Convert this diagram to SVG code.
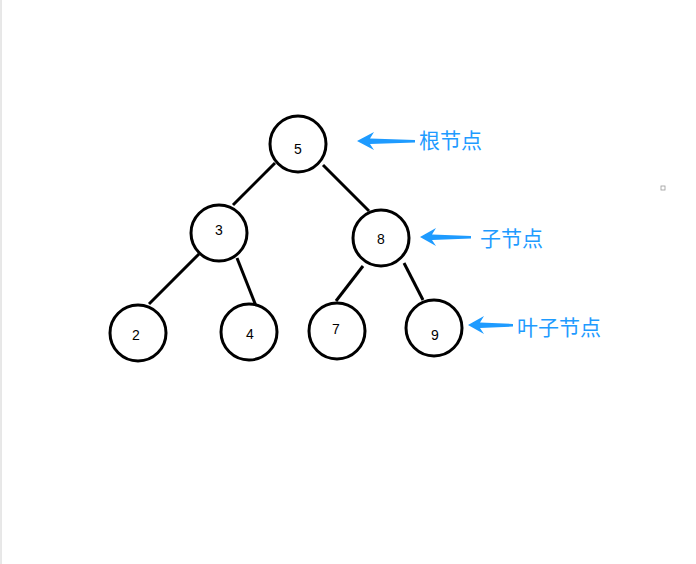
<svg xmlns="http://www.w3.org/2000/svg" width="696" height="564" viewBox="0 0 696 564">
<style>
.n circle{fill:#fff;stroke:#000;stroke-width:3}
.n text{font-family:"Liberation Sans",Arial,sans-serif;font-size:14px;text-anchor:middle;fill:#000}
#edges line{stroke:#000;stroke-width:3}
.lbl{font-family:"Noto Sans CJK SC",sans-serif;font-size:21px;fill:#1E9BFF}
.arr{fill:#1E9BFF}
</style>
<rect width="696" height="564" fill="#fff"/>
<line x1="1" y1="0" x2="1" y2="564" stroke="#d0d0d0"/>
<rect x="661" y="186" width="4" height="4" fill="none" stroke="#999" stroke-width="0.8"/>
<g id="edges">
<line x1="275" y1="163" x2="233" y2="205"/>
<line x1="323" y1="165" x2="369" y2="211"/>
<line x1="199" y1="254" x2="149" y2="304"/>
<line x1="237" y1="258" x2="256" y2="306"/>
<line x1="363" y1="266" x2="336" y2="301"/>
<line x1="404" y1="263" x2="423" y2="300"/>
</g>
<g id="n5" class="n"><circle cx="298" cy="144" r="28"/><text x="298" y="154">5</text></g>
<g id="n3" class="n"><circle cx="219" cy="233" r="28"/><text x="219" y="235">3</text></g>
<g id="n8" class="n"><circle cx="381" cy="238" r="28"/><text x="381" y="244">8</text></g>
<g id="n2" class="n"><circle cx="138" cy="333" r="28"/><text x="136" y="340">2</text></g>
<g id="n4" class="n"><circle cx="249" cy="332" r="28"/><text x="250" y="339">4</text></g>
<g id="n7" class="n"><circle cx="337" cy="331" r="28"/><text x="336" y="334">7</text></g>
<g id="n9" class="n"><circle cx="434" cy="328" r="28"/><text x="435" y="340">9</text></g>
<g id="annotations">
<path class="arr" d="M357,141 L374,132 L370,138.5 L415,140 L415,142.5 L370,144 L374,150 Z"/>
<text class="lbl" x="419" y="148">根节点</text>
<path class="arr" d="M420,237 L436,228 L432,234.5 L471,236 L471,238.5 L432,240 L436,246 Z"/>
<text class="lbl" x="480" y="246">子节点</text>
<path class="arr" d="M468,325 L484,316 L480,322.5 L513,324 L513,326.5 L480,328 L484,334 Z"/>
<text class="lbl" x="517" y="335">叶子节点</text>
</g>
</svg>
